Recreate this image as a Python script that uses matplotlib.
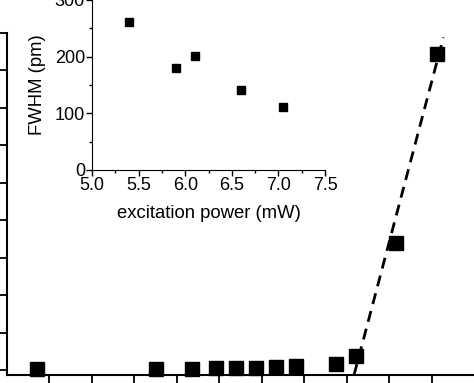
import matplotlib
matplotlib.use("Agg")
import matplotlib.pyplot as plt
from matplotlib.ticker import MultipleLocator

plt.rcParams['font.family'] = ['Liberation Sans', 'DejaVu Sans']

# -----------------------------
# Main panel data (tick labels are cropped out, units arbitrary)
# -----------------------------
main_x = [-0.28, 2.52, 3.36, 3.93, 4.40, 4.87, 5.34, 5.81, 6.75, 7.22, 8.16, 9.11]
main_y = [0.03, 0.03, 0.03, 0.05, 0.05, 0.05, 0.08, 0.11, 0.16, 0.37, 3.39, 8.45]
main_xticks = list(range(0, 10))
main_yticks = list(range(0, 10))

# dashed linear fit above threshold
fit_x = [7.17, 9.27]
fit_y = [-0.13, 8.88]

# -----------------------------
# Inset data
# -----------------------------
inset_power = [5.4, 5.9, 6.1, 6.6, 7.05]
inset_fwhm = [261, 180, 201, 141, 111]
inset_xticks = [5.0, 5.5, 6.0, 6.5, 7.0, 7.5]
inset_yticks = [0, 100, 200, 300]

fig = plt.figure(figsize=(4.74, 3.83), dpi=100)

# main axes
ax = fig.add_axes([7 / 474, 8 / 383, 467 / 474, 342 / 383])
ax.plot(main_x, main_y, 's', color='black', markersize=9.4, clip_on=False, zorder=3)
ax.plot(fit_x, fit_y, '--', color='black', linewidth=2, dashes=(4, 2.6), zorder=2)
ax.set_xlim(-0.988, 9.99)
ax.set_ylim(-0.133, 9.0)
ax.set_xticks(main_xticks)
ax.set_yticks(main_yticks)
ax.set_xticklabels([])
ax.set_yticklabels([])
ax.spines['top'].set_visible(False)
ax.spines['right'].set_visible(False)
for s in ['left', 'bottom']:
    ax.spines[s].set_linewidth(1.5)
ax.tick_params(direction='out', length=7, width=1.3)

# inset axes
axin = fig.add_axes([92 / 474, 1 - 170 / 383, 233 / 474, 170 / 383])
axin.plot(inset_power, inset_fwhm, 's', color='black', markersize=5.8)
axin.set_xlim(5.0, 7.5)
axin.set_ylim(0, 300)
axin.set_xticks(inset_xticks)
axin.set_yticks(inset_yticks)
axin.set_xticklabels([f"{v:.1f}" for v in inset_xticks])
axin.xaxis.set_minor_locator(MultipleLocator(0.25))
axin.yaxis.set_minor_locator(MultipleLocator(50))
axin.spines['top'].set_visible(False)
axin.spines['right'].set_visible(False)
axin.tick_params(which='major', direction='out', length=4, width=1, labelsize=13, pad=1)
axin.tick_params(which='minor', direction='out', length=2.5, width=1)
axin.set_xlabel("excitation power (mW)", fontsize=13.3, labelpad=8)
axin.set_ylabel("FWHM (pm)", fontsize=13.3, labelpad=6)
axin.patch.set_alpha(0)

fig.savefig("out.png", dpi=100)
